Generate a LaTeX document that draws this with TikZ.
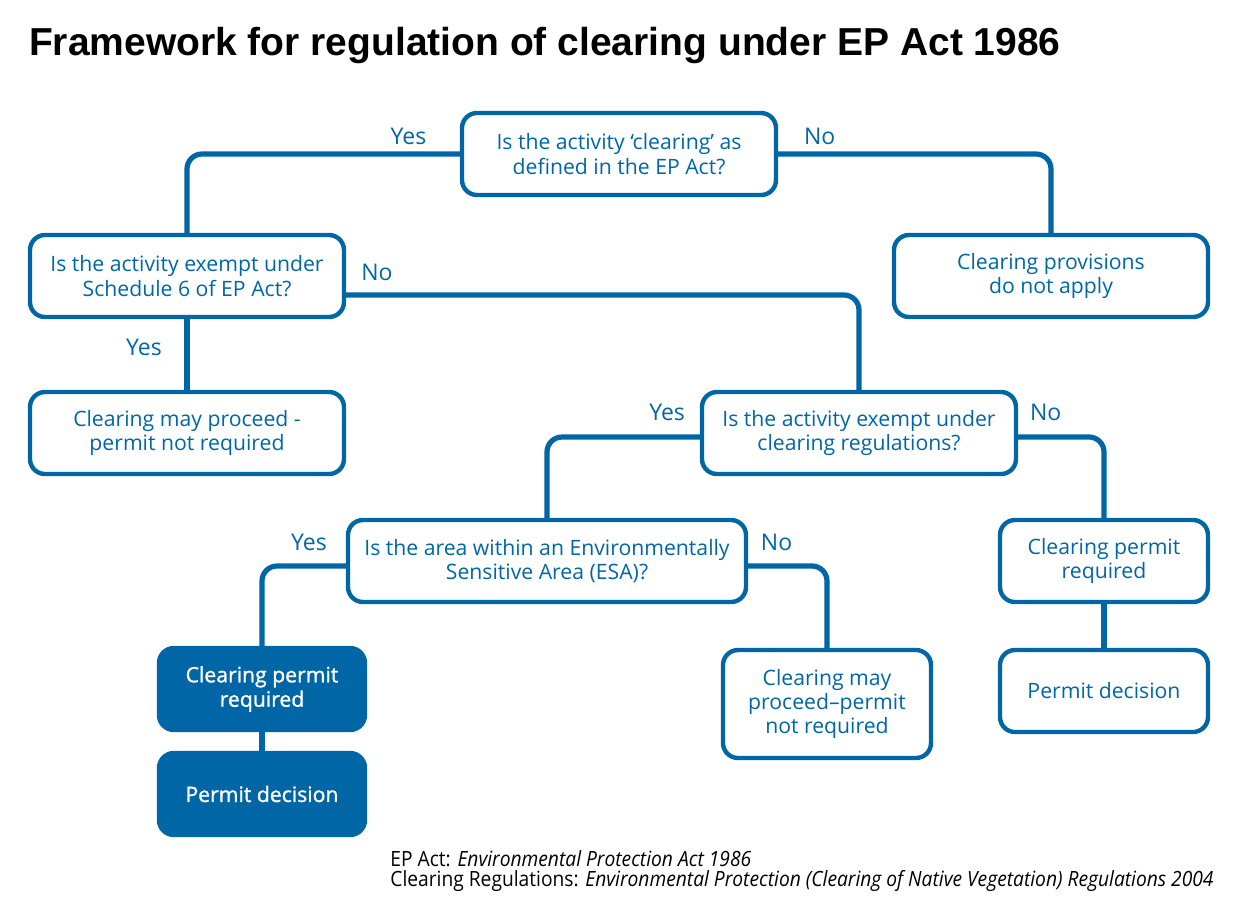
\documentclass[tikz,border=0pt]{standalone}
\usepackage{fontspec}
\setmainfont{Open Sans}
\newfontfamily\titlefont{Liberation Sans}
\newfontfamily\notefont[FakeStretch=0.915]{Open Sans}
\newfontfamily\darkfont[FakeBold=1.2]{Open Sans}
\usetikzlibrary{positioning}
\definecolor{epblue}{HTML}{0066A6}

\begin{document}
\begin{tikzpicture}[x=0.5pt, y=-0.5pt, font=\fontsize{10.6}{12.2}\selectfont, box/.style={rectangle, rounded corners=7.5pt, draw=epblue, line width=2.2pt, text=epblue, align=center, minimum height=41pt}, darkbox/.style={box, fill=epblue, text=white, font=\darkfont\fontsize{10.6}{12.2}\selectfont}, link/.style={draw=epblue, line width=2.6pt, rounded corners=7.5pt}, lbl/.style={text=epblue, font=\fontsize{11.5}{12}\selectfont}]

  \useasboundingbox (0,0) rectangle (1249,907);

  \node[anchor=base west, font=\titlefont\bfseries\fontsize{19.5}{22}\selectfont] (title) at (22,55) {Framework for regulation of clearing under EP Act 1986};

  \node[box, minimum width=157pt] (isclearing) at (619,154) {Is the activity `clearing' as\\defined in the EP Act?};
  \node[box, minimum width=157pt] (schedule) at (187,276) {Is the activity exempt under\\Schedule 6 of EP Act?};
  \node[box, minimum width=157pt] (noapply) at (1051,276) {Clearing provisions\\do not apply};
  \node[box, minimum width=157pt] (proceed) at (187,433) {Clearing may proceed -\\permit not required};
  \node[box, minimum width=157pt] (regs) at (859,433) {Is the activity exempt under\\clearing regulations?};
  \node[box, minimum width=199pt] (esa) at (547,561) {Is the area within an Environmentally\\Sensitive Area (ESA)?};
  \node[box, minimum width=104pt] (permreq) at (1104,561) {Clearing permit\\required};
  \node[box, minimum width=104pt] (decision) at (1104,691) {Permit decision};
  \node[box, minimum width=104pt, minimum height=54pt] (proceedesa) at (827,704) {Clearing may\\proceed--permit\\not required};
  \node[darkbox, minimum width=103pt] (permreqesa) at (262,689) {Clearing permit\\required};
  \node[darkbox, minimum width=103pt] (decisionesa) at (262,794) {Permit decision};

  % decision branches
  \draw[link] (isclearing.west) -| node[lbl, above, pos=0.094] {Yes} (schedule.north);
  \draw[link] (isclearing.east) -| node[lbl, above, pos=0.076] {No} (noapply.north);
  \draw[link] ([yshift=-9.5pt]schedule.east) -| node[lbl, above, pos=0.03, yshift=2.5pt] {No} (regs.north);
  \draw[link] (schedule.south) -- node[lbl, left, pos=0.4, xshift=-8pt] {Yes} (proceed.north);
  \draw[link] ([yshift=-2pt]regs.west) -| node[lbl, above, pos=0.107, yshift=3.5pt] {Yes} (esa.north);
  \draw[link] ([yshift=-2pt]regs.east) -| node[lbl, above, pos=0.16, yshift=3.5pt] {No} (permreq.north);
  \draw[link] ([yshift=-2.5pt]esa.west) -| node[lbl, above, pos=0.22, yshift=3pt] {Yes} (permreqesa.north);
  \draw[link] ([yshift=-2.5pt]esa.east) -| node[lbl, above, pos=0.18, yshift=3pt] {No} (proceedesa.north);
  \draw[link] (permreq) -- (decision);
  \draw[link] (permreqesa) -- (decisionesa);

  \node[anchor=north west, align=left, inner sep=0pt, font=\notefont\fontsize{10.5}{10}\selectfont] (notes) at (390,850) {EP Act: \textit{Environmental Protection Act 1986}\\Clearing Regulations: \textit{Environmental Protection (Clearing of Native Vegetation) Regulations 2004}};
\end{tikzpicture}
\end{document}
